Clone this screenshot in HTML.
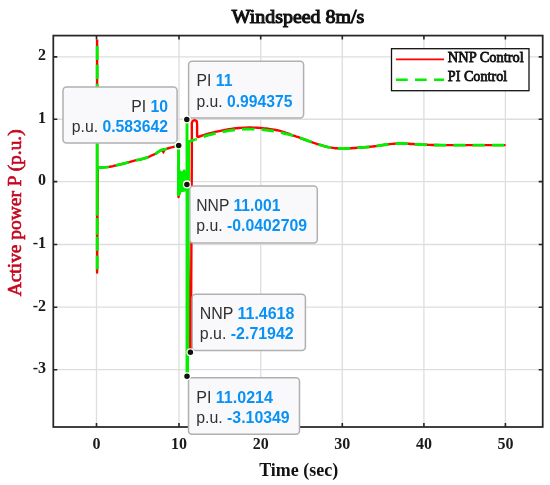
<!DOCTYPE html><html><head><meta charset="utf-8"><title>Windspeed 8m/s</title><style>html,body{margin:0;padding:0;background:#fff;}svg{display:block;}</style></head><body>
<svg width="550" height="485" viewBox="0 0 550 485">
<rect x="0" y="0" width="550" height="485" fill="#fff"/>
<path d="M96.5 35.6V427M179 35.6V427M260.7 35.6V427M342.3 35.6V427M423.9 35.6V427M505.4 35.6V427M53.3 56.9H542.7M53.3 119.25H542.7M53.3 181.6H542.7M53.3 244.5H542.7M53.3 307.2H542.7M53.3 369.7H542.7" stroke="#dedede" stroke-width="1.3" fill="none"/>
<polyline points="97.1,39.5 97.1,272.6 97.8,167.9 97.87,167.88 97.94,167.85 98.31,167.8 99.3,167.7 101.22,167.56 103.84,167.39 106.63,167.17 109.1,166.9 111.13,166.55 112.98,166.14 114.72,165.7 116.4,165.3 118.01,164.94 119.54,164.6 121.02,164.26 122.5,163.9 123.97,163.52 125.41,163.13 126.87,162.73 128.4,162.3 130.06,161.83 131.81,161.32 133.56,160.83 135.2,160.4 136.68,160.09 138.06,159.86 139.44,159.62 140.9,159.3 142.54,158.86 144.28,158.36 145.98,157.82 147.5,157.3 148.8,156.79 149.94,156.27 150.99,155.76 152,155.3 152.94,154.91 153.81,154.58 154.64,154.23 155.5,153.8 156.39,153.23 157.28,152.56 158.18,151.89 159.1,151.3 160.07,150.79 161.09,150.31 162.06,149.91 162.9,149.6 163.51,149.45 163.96,149.43 164.43,149.42 165.1,149.3 166.05,149.02 167.17,148.65 168.36,148.25 169.5,147.9 170.57,147.61 171.62,147.35 172.69,147.09 173.8,146.8 175.1,146.44 176.52,146.03 177.81,145.66 178.7,145.4 178.5,197 181,186 184,182 187,184.4 190.1,352.2 190.9,352.2 191.9,140 191.8,123 192.8,120.8 195,120.2 196.8,121.3 197.1,124.5 197.1,136.5 198,137 201.88,135.63 204.4,134.8 206.79,134.1 209.25,133.43 211.73,132.8 214.2,132.2 216.65,131.63 219.1,131.09 221.55,130.58 224,130.1 226.45,129.65 228.9,129.22 231.35,128.83 233.8,128.5 236.25,128.23 238.7,128.01 241.15,127.83 243.6,127.7 246.1,127.61 248.64,127.57 251.1,127.57 253.4,127.6 255.47,127.66 257.38,127.74 259.19,127.86 261,128 262.75,128.16 264.42,128.34 266.14,128.55 268,128.8 270.06,129.09 272.26,129.42 274.53,129.79 276.8,130.2 279.15,130.69 281.58,131.39 283.92,132.16 286,132.86 287.74,133.46 289.24,134 290.62,134.51 292,135.03 293.33,135.51 294.58,135.95 295.86,136.44 297.3,136.9 298.96,137.47 300.77,138.12 302.65,138.82 304.5,139.5 306.32,140.17 308.14,140.86 309.97,141.54 311.8,142.2 313.62,142.83 315.45,143.44 317.28,144.03 319.1,144.6 320.94,145.17 322.79,145.72 324.62,146.25 326.4,146.7 328.14,147.08 329.84,147.4 331.48,147.67 333,147.9 334.36,148.08 335.59,148.21 336.77,148.31 338,148.4 339.25,148.48 340.49,148.55 341.78,148.59 343.2,148.6 344.78,148.56 346.49,148.49 348.25,148.4 350,148.3 351.74,148.19 353.49,148.06 355.25,147.93 357,147.8 358.77,147.68 360.56,147.55 362.32,147.43 364,147.3 365.57,147.18 367.06,147.06 368.52,146.94 370,146.8 371.5,146.64 373,146.47 374.5,146.29 376,146.1 377.49,145.89 378.97,145.66 380.47,145.43 382,145.2 383.55,144.97 385.13,144.74 386.73,144.51 388.4,144.3 390.19,144.1 392.06,143.9 393.91,143.73 395.6,143.6 397.06,143.53 398.38,143.49 399.65,143.49 401,143.5 402.41,143.52 403.84,143.56 405.35,143.62 407,143.7 408.91,143.81 411,143.94 413.09,144.07 415,144.2 416.64,144.31 418.12,144.42 419.55,144.52 421,144.6 422.49,144.66 423.97,144.71 425.46,144.75 427,144.8 428.47,144.85 429.91,144.91 431.51,144.96 433.5,145 435.71,145.03 438.09,145.06 441.06,145.08 445,145.1 450.05,145.11 455.99,145.11 462.69,145.1 470,145.1 478.99,145.1 489.36,145.1 498.95,145.1 505.6,145.1" fill="none" stroke="#ff0000" stroke-width="2.4" stroke-linejoin="round"/>
<polyline points="162.2,150.8 163.4,152.6 164.5,150.6" fill="none" stroke="#ff0000" stroke-width="1.8"/>
<polyline points="97.8,167.9 97.87,167.88 97.94,167.85 98.31,167.8 99.3,167.7 101.22,167.56 103.84,167.39 106.63,167.17 109.1,166.9 111.13,166.55 112.98,166.14 114.72,165.7 116.4,165.3 118.01,164.94 119.54,164.6 121.02,164.26 122.5,163.9 123.97,163.52 125.41,163.13 126.87,162.73 128.4,162.3 130.06,161.83 131.81,161.32 133.56,160.83 135.2,160.4 136.68,160.09 138.06,159.86 139.44,159.62 140.9,159.3 142.54,158.86 144.28,158.36 145.98,157.82 147.5,157.3 148.8,156.79 149.94,156.27 150.99,155.76 152,155.3 152.94,154.91 153.81,154.58 154.64,154.23 155.5,153.8 156.39,153.23 157.28,152.56 158.18,151.89 159.1,151.3 160.07,150.79 161.09,150.31 162.06,149.91 162.9,149.6 163.51,149.45 163.96,149.43 164.43,149.42 165.1,149.3 166.05,149.02 167.17,148.65 168.36,148.25 169.5,147.9 170.57,147.61 171.62,147.35 172.69,147.09 173.8,146.8 175.1,146.44 176.52,146.03 177.81,145.66 178.7,145.4" fill="none" stroke="#00f000" stroke-width="2.8" stroke-dasharray="12.99 7.45" stroke-dashoffset="1.94"/>
<polyline points="195.4,139.5 197,138.91 199.29,138.06 201.88,137.13 204.4,136.3 206.79,135.6 209.25,134.93 211.73,134.3 214.2,133.7 216.65,133.13 219.1,132.59 221.55,132.08 224,131.6 226.45,131.15 228.9,130.72 231.35,130.33 233.8,130 236.25,129.73 238.7,129.51 241.15,129.33 243.6,129.2 246.1,129.11 248.64,129.07 251.1,129.07 253.4,129.1 255.47,129.16 257.38,129.24 259.19,129.36 261,129.5 262.75,129.66 264.42,129.84 266.14,130.05 268,130.3 270.06,130.59 272.26,130.92 274.53,131.29 276.8,131.7 279.15,132.19 281.58,132.74 283.92,133.29 286,133.8 287.74,134.24 289.24,134.64 290.62,135.02 292,135.4 293.33,135.76 294.58,136.09 295.86,136.45 297.3,136.9 298.96,137.47 300.77,138.12 302.65,138.82 304.5,139.5 306.32,140.17 308.14,140.86 309.97,141.54 311.8,142.2 313.62,142.83 315.45,143.44 317.28,144.03 319.1,144.6" fill="none" stroke="#00f000" stroke-width="2.8" stroke-dasharray="12.46 7.15" stroke-dashoffset="10.9"/>
<polyline points="319.1,144.6 319.1,144.6 320.94,145.17 322.79,145.72 324.62,146.25 326.4,146.7 328.14,147.08 329.84,147.4 331.48,147.67 333,147.9 334.36,148.08 335.59,148.21 336.77,148.31 338,148.4 339.25,148.48 340.49,148.55 341.78,148.59 343.2,148.6 344.78,148.56 346.49,148.49 348.25,148.4 350,148.3 351.74,148.19 353.49,148.06 355.25,147.93 357,147.8 358.77,147.68 360.56,147.55 362.32,147.43 364,147.3 365.57,147.18 367.06,147.06 368.52,146.94 370,146.8 371.5,146.64 373,146.47 374.5,146.29 376,146.1 377.49,145.89 378.97,145.66 380.47,145.43 382,145.2 383.55,144.97 385.13,144.74 386.73,144.51 388.4,144.3 390.19,144.1 392.06,143.9 393.91,143.73 395.6,143.6 397.06,143.53 398.38,143.49 399.65,143.49 401,143.5 402.41,143.52 403.84,143.56 405.35,143.62 407,143.7 408.91,143.81 411,143.94 413.09,144.07 415,144.2 416.64,144.31 418.12,144.42 419.55,144.52 421,144.6 422.49,144.66 423.97,144.71 425.46,144.75 427,144.8 428.47,144.85 429.91,144.91 431.51,144.96 433.5,145 435.71,145.03 438.09,145.06 441.06,145.08 445,145.1 450.05,145.11 455.99,145.11 462.69,145.1 470,145.1 478.99,145.1 489.36,145.1 498.95,145.1 505.6,145.1" fill="none" stroke="#00f000" stroke-width="2.8" stroke-dasharray="12.25 7.03" stroke-dashoffset="19.25"/>
<line x1="97.2" y1="45.9" x2="97.2" y2="60" stroke="#00f000" stroke-width="2.9"/>
<line x1="97.2" y1="64.7" x2="97.2" y2="79.1" stroke="#00f000" stroke-width="2.9"/>
<line x1="97.2" y1="83.7" x2="97.2" y2="90" stroke="#00f000" stroke-width="2.9"/>
<line x1="97.2" y1="140" x2="97.2" y2="215.7" stroke="#00f000" stroke-width="2.9"/>
<line x1="97.2" y1="218" x2="97.2" y2="234.8" stroke="#00f000" stroke-width="2.9"/>
<line x1="97.2" y1="236.7" x2="97.2" y2="250.9" stroke="#00f000" stroke-width="2.9"/>
<line x1="97.2" y1="255.6" x2="97.2" y2="269.4" stroke="#00f000" stroke-width="2.9"/>
<polyline points="178.6,145.4 178.4,196" fill="none" stroke="#00f000" stroke-width="2.9"/>
<path d="M177.5 172 L180 170 L182 171.5 L184 169 L186 171 L189.5 170 L189.5 184 L187.5 187.5 L185.5 191.5 L181.2 192.3 L180.2 195.5 L177.5 195.5 Z" fill="#00f000"/>
<polyline points="187,119.4 187,376.3" fill="none" stroke="#00f000" stroke-width="2.9"/>
<polyline points="187.6,376 188.7,145 188.9,141.5 195.4,139.5" fill="none" stroke="#00f000" stroke-width="2.8"/>
<path d="M96.5 427v-4M96.5 35.6v4M179 427v-4M179 35.6v4M260.7 427v-4M260.7 35.6v4M342.3 427v-4M342.3 35.6v4M423.9 427v-4M423.9 35.6v4M505.4 427v-4M505.4 35.6v4M53.3 56.9h4M542.7 56.9h-4M53.3 119.25h4M542.7 119.25h-4M53.3 181.6h4M542.7 181.6h-4M53.3 244.5h4M542.7 244.5h-4M53.3 307.2h4M542.7 307.2h-4M53.3 369.7h4M542.7 369.7h-4" stroke="#262626" stroke-width="1.6" fill="none"/>
<rect x="53.3" y="35.6" width="489.4" height="391.4" fill="none" stroke="#262626" stroke-width="1.75"/>
<g font-family="Liberation Serif, serif" font-weight="bold" font-size="16" fill="#1a1a1a">
<text x="96.5" y="448.5" text-anchor="middle">0</text>
<text x="179" y="448.5" text-anchor="middle">10</text>
<text x="260.7" y="448.5" text-anchor="middle">20</text>
<text x="342.3" y="448.5" text-anchor="middle">30</text>
<text x="423.9" y="448.5" text-anchor="middle">40</text>
<text x="505.4" y="448.5" text-anchor="middle">50</text>
<text x="46" y="60.4" text-anchor="end">2</text>
<text x="46" y="122.75" text-anchor="end">1</text>
<text x="46" y="185.1" text-anchor="end">0</text>
<text x="46" y="248" text-anchor="end">-1</text>
<text x="46" y="310.7" text-anchor="end">-2</text>
<text x="46" y="373.2" text-anchor="end">-3</text>
</g>
<text x="298" y="22.7" text-anchor="middle" font-family="Liberation Serif, serif" font-size="19.5" fill="#111" stroke="#111" stroke-width="1.1" textLength="132.5" lengthAdjust="spacingAndGlyphs">Windspeed 8m/s</text>
<text x="298.7" y="475.6" text-anchor="middle" font-family="Liberation Serif, serif" font-weight="bold" font-size="18" fill="#111" textLength="79" lengthAdjust="spacingAndGlyphs">Time (sec)</text>
<text transform="translate(20.5,212.8) rotate(-90)" text-anchor="middle" font-family="Liberation Serif, serif" font-size="18" fill="#c4061e" stroke="#c4061e" stroke-width="0.6" textLength="167" lengthAdjust="spacingAndGlyphs">Active power P (p.u.)</text>
<rect x="391.5" y="48.7" width="137.5" height="42" fill="#fff" stroke="#111" stroke-width="1.3"/>
<line x1="396" y1="59.4" x2="444" y2="59.4" stroke="#ff0000" stroke-width="1.8"/>
<line x1="396" y1="79.7" x2="444.1" y2="79.7" stroke="#00f000" stroke-width="2.4" stroke-dasharray="11.7 7.3"/>
<g font-family="Liberation Serif, serif" font-size="15.5" fill="#111" stroke="#111" stroke-width="0.8">
<text x="447.8" y="62" textLength="76" lengthAdjust="spacingAndGlyphs">NNP Control</text>
<text x="447.8" y="81" textLength="59.4" lengthAdjust="spacingAndGlyphs">PI Control</text>
</g>
<rect x="63" y="87" width="114.1" height="56" rx="3.5" fill="#f9f9fc" stroke="#b0b0b0" stroke-width="1.5"/><g font-family="Liberation Sans, Arial, sans-serif" font-size="16"><text x="168.1" y="112" text-anchor="end" textLength="36.84" lengthAdjust="spacingAndGlyphs"><tspan fill="#303030">PI </tspan><tspan fill="#0992f4" font-weight="bold">10</tspan></text><text x="168.1" y="132.2" text-anchor="end" textLength="96.26" lengthAdjust="spacingAndGlyphs"><tspan fill="#303030">p.u. </tspan><tspan fill="#0992f4" font-weight="bold">0.583642</tspan></text></g>
<rect x="188.6" y="61.3" width="115" height="56.7" rx="3.5" fill="#f9f9fc" stroke="#b0b0b0" stroke-width="1.5"/><g font-family="Liberation Sans, Arial, sans-serif" font-size="16"><text x="196.5" y="86.3" text-anchor="start" textLength="35.96" lengthAdjust="spacingAndGlyphs"><tspan fill="#303030">PI </tspan><tspan fill="#0992f4" font-weight="bold">11</tspan></text><text x="196.5" y="106.5" text-anchor="start" textLength="95.96" lengthAdjust="spacingAndGlyphs"><tspan fill="#303030">p.u. </tspan><tspan fill="#0992f4" font-weight="bold">0.994375</tspan></text></g>
<rect x="189.8" y="186" width="127.5" height="57" rx="3.5" fill="#f9f9fc" stroke="#b0b0b0" stroke-width="1.5"/><g font-family="Liberation Sans, Arial, sans-serif" font-size="16"><text x="196.3" y="211" text-anchor="start" textLength="84.18" lengthAdjust="spacingAndGlyphs"><tspan fill="#303030">NNP </tspan><tspan fill="#0992f4" font-weight="bold">11.001</tspan></text><text x="196.3" y="231.2" text-anchor="start" textLength="110.7" lengthAdjust="spacingAndGlyphs"><tspan fill="#303030">p.u. </tspan><tspan fill="#0992f4" font-weight="bold">-0.0402709</tspan></text></g>
<rect x="192.2" y="294.2" width="113.2" height="56.3" rx="3.5" fill="#f9f9fc" stroke="#b0b0b0" stroke-width="1.5"/><g font-family="Liberation Sans, Arial, sans-serif" font-size="16"><text x="199.8" y="319.2" text-anchor="start" textLength="94.49" lengthAdjust="spacingAndGlyphs"><tspan fill="#303030">NNP </tspan><tspan fill="#0992f4" font-weight="bold">11.4618</tspan></text><text x="199.8" y="339.4" text-anchor="start" textLength="93.91" lengthAdjust="spacingAndGlyphs"><tspan fill="#303030">p.u. </tspan><tspan fill="#0992f4" font-weight="bold">-2.71942</tspan></text></g>
<rect x="188.5" y="377.7" width="111" height="56.5" rx="3.5" fill="#f9f9fc" stroke="#b0b0b0" stroke-width="1.5"/><g font-family="Liberation Sans, Arial, sans-serif" font-size="16"><text x="196.2" y="402.7" text-anchor="start" textLength="76.72" lengthAdjust="spacingAndGlyphs"><tspan fill="#303030">PI </tspan><tspan fill="#0992f4" font-weight="bold">11.0214</tspan></text><text x="196.2" y="422.9" text-anchor="start" textLength="93.5" lengthAdjust="spacingAndGlyphs"><tspan fill="#303030">p.u. </tspan><tspan fill="#0992f4" font-weight="bold">-3.10349</tspan></text></g>
<circle cx="178.7" cy="145.4" r="3.4" fill="#111" stroke="#fffef4" stroke-width="1.3"/>
<circle cx="186.8" cy="119.4" r="3.4" fill="#111" stroke="#fffef4" stroke-width="1.3"/>
<circle cx="186.9" cy="184.4" r="3.4" fill="#111" stroke="#fffef4" stroke-width="1.3"/>
<circle cx="190.4" cy="352.2" r="3.4" fill="#111" stroke="#fffef4" stroke-width="1.3"/>
<circle cx="187" cy="376.3" r="3.4" fill="#111" stroke="#fffef4" stroke-width="1.3"/>
</svg></body></html>
